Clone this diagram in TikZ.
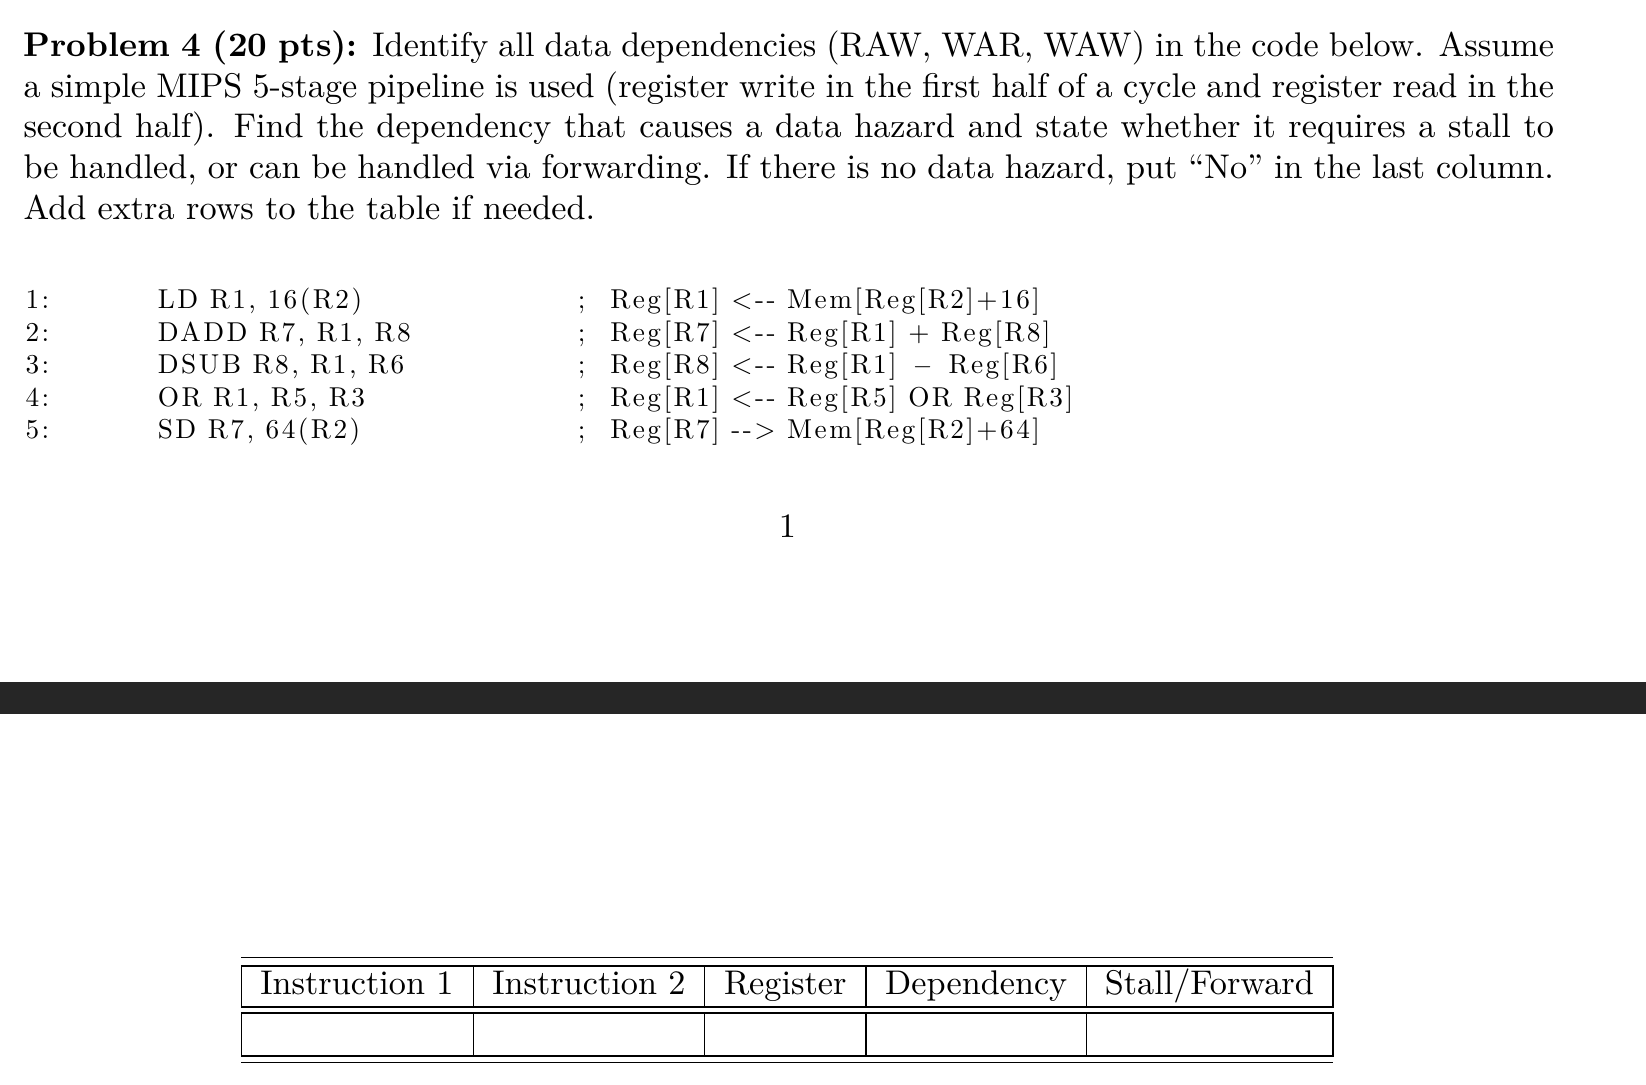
\documentclass[tikz,border=0pt]{standalone}
\usepackage{fontspec}
\setmainfont{lmroman10-regular.otf}[BoldFont=lmroman10-bold.otf]
\newfontfamily\codefont{lmroman10-regular.otf}[LetterSpace=9]
\begin{document}
\begin{tikzpicture}[x=0.5pt,y=-0.5pt,
  cd/.style={anchor=base west,inner sep=0pt,font=\codefont\fontsize{13}{15}\selectfont},
  hd/.style={anchor=base,inner sep=0pt,font=\fontsize{16.3}{19}\selectfont},
  rl/.style={line width=0.8pt}]
\useasboundingbox (0,0) rectangle (1568,1033);
\node[anchor=north west,inner sep=0pt,text width=729pt,align=justify,
  font=\fontsize{16.3}{19.4}\selectfont] (para) at (22,29)
{\textbf{Problem 4 (20 pts):} Identify all data dependencies (RAW, WAR, WAW) in the code below. Assume a simple MIPS 5-stage pipeline is used (register write in the first half of a cycle and register read in the second half). Find the dependency that causes a data hazard and state whether it requires a stall to be handled, or can be handled via forwarding. If there is no data hazard, put ``No'' in the last column. Add extra rows to the table if needed.};
\foreach \n/\y/\ins/\com in {
 1/294/{LD R1, 16(R2)}/{Reg[R1] {<}{--} Mem[Reg[R2]+16]},
 2/325/{DADD R7, R1, R8}/{Reg[R7] {<}{--} Reg[R1] + Reg[R8]},
 3/356/{DSUB R8, R1, R6}/{Reg[R8] {<}{--} Reg[R1] \,$-$\, Reg[R6]},
 4/387/{OR R1, R5, R3}/{Reg[R1] {<}{--} Reg[R5] OR Reg[R3]},
 5/418/{SD R7, 64(R2)}/{Reg[R7] {--}{>} Mem[Reg[R2]+64]}}{
 \node[cd] (n\n) at (24,\y) {\n:};
 \node[cd] (i\n) at (150,\y) {\ins};
 \node[cd] (s\n) at (550,\y) {;};
 \node[cd] (c\n) at (581,\y) {\com};
}
\node[hd] (pg) at (750,512) {1};
\fill[fill=black!85] (0,650) rectangle (1568,680);
% table
\draw[rl] (230,912) -- (1270,912);
\draw[rl] (230,920) rectangle (1270,959);
\draw[rl] (230,965) rectangle (1270,1006);
\draw[rl] (230,1012) -- (1270,1012);
\foreach \x in {451,671,825,1035}{\draw[rl] (\x,920) -- (\x,959); \draw[rl] (\x,965) -- (\x,1006);}
\node[hd] (h1) at (340,947) {Instruction 1};
\node[hd] (h2) at (561,947) {Instruction 2};
\node[hd] (h3) at (748,947) {Register};
\node[hd] (h4) at (930,947) {Dependency};
\node[hd] (h5) at (1152,947) {Stall/Forward};
\end{tikzpicture}
\end{document}
